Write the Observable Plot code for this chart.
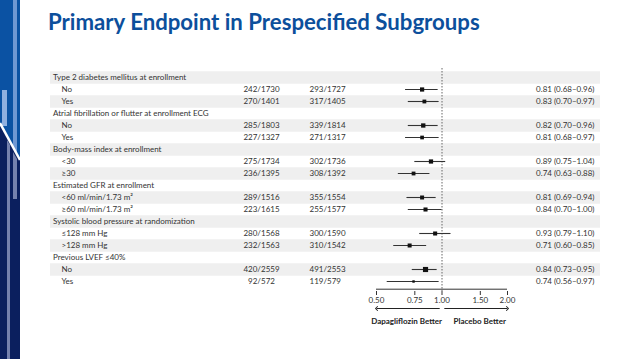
<!DOCTYPE html>
<html>
<head>
<meta charset="utf-8">
<script src="https://cdn.jsdelivr.net/npm/d3@7"></script>
<script src="https://cdn.jsdelivr.net/npm/@observablehq/plot@0.6"></script>
<style>
html, body { margin: 0; padding: 0; background: #fff; }
#wrap { position: relative; width: 638px; height: 359px; overflow: hidden; background: #fff; }
#deco { position: absolute; left: 0; top: 0; }
#chart { position: absolute; left: 0; top: 0; }
#title { position: absolute; left: 48px; top: 11px; font: bold 22.2px Lato, sans-serif; line-height: 22px; color: #0c4f9c; white-space: nowrap; }
</style>
</head>
<body>
<div id="wrap">
  <svg id="deco" width="22" height="359">
    <rect x="0" y="0" width="20" height="359" fill="#0b1f5e"></rect>
    <polygon points="0,0 20,0 20,160 0,124" fill="#0b52a3"></polygon>
    <polygon points="13,0 17,0 17,155 13,148" fill="#6f98d3"></polygon>
    <rect x="2" y="90" width="5" height="36" fill="#8fb0e0"></rect>
    <polygon points="7,140 10,145 10,359 7,359" fill="#7581ad"></polygon>
    <polygon points="13,152 17,159 17,199 13,199" fill="#7581ad"></polygon>
    <line x1="0" y1="123" x2="20" y2="160" stroke="#fff" stroke-width="2.5"></line>
  </svg>
  <div id="chart"></div>
  <div id="title">Primary Endpoint in Prespecified Subgroups</div>
</div>
<script>
const labels = [
  "Type 2 diabetes mellitus at enrollment", "No", "Yes",
  "Atrial fibrillation or flutter at enrollment ECG", "No", "Yes",
  "Body-mass index at enrollment", "<30", "≥30",
  "Estimated GFR at enrollment", "<60 ml/min/1.73 m²", "≥60 ml/min/1.73 m²",
  "Systolic blood pressure at randomization", "≤128 mm Hg", ">128 mm Hg",
  "Previous LVEF ≤40%", "No", "Yes"
];
const isGroup = [true, false, false, true, false, false, true, false, false, true, false, false, true, false, false, true, false, false];
const dapagliflozin = ["", "242/1730", "270/1401", "", "285/1803", "227/1327", "", "275/1734", "236/1395", "", "289/1516", "223/1615", "", "280/1568", "232/1563", "", "420/2559", "92/572"];
const placebo = ["", "293/1727", "317/1405", "", "339/1814", "271/1317", "", "302/1736", "308/1392", "", "355/1554", "255/1577", "", "300/1590", "310/1542", "", "491/2553", "119/579"];
const hazardRatio = [null, 0.81, 0.83, null, 0.82, 0.81, null, 0.89, 0.74, null, 0.81, 0.84, null, 0.93, 0.71, null, 0.84, 0.74];
const ciLow = [null, 0.68, 0.70, null, 0.70, 0.68, null, 0.75, 0.63, null, 0.69, 0.70, null, 0.79, 0.60, null, 0.73, 0.56];
const ciHigh = [null, 0.96, 0.97, null, 0.96, 0.97, null, 1.04, 0.88, null, 0.94, 1.00, null, 1.10, 0.85, null, 0.95, 0.97];
const xTicks = [0.5, 0.75, 1, 1.5, 2];
const directionLabels = ["Dapagliflozin Better", "Placebo Better"];

const fmt = d3.format(".2f");
const rows = labels.map((label, i) => ({
  id: i,
  label,
  group: isGroup[i],
  dapa: dapagliflozin[i],
  placebo: placebo[i],
  hr: hazardRatio[i],
  lo: ciLow[i],
  hi: ciHigh[i],
  n: isGroup[i] ? 0 : (+dapagliflozin[i].split("/")[1]) + (+placebo[i].split("/")[1]),
  hrText: isGroup[i] ? "" : `${fmt(hazardRatio[i])} (${fmt(ciLow[i])}–${fmt(ciHigh[i])})`
}));
const subs = rows.filter(d => !d.group);
const groups = rows.filter(d => d.group);
const shaded = rows.filter((d, i) => i % 2 === 0);
const lastId = rows[rows.length - 1].id;
const maxN = d3.max(subs, d => d.n);
const arrows = [{ from: 1, to: 0.5, row: lastId }, { from: 1, to: 2, row: lastId }];

const chart = Plot.plot({
  width: 638,
  height: 359,
  marginTop: 68,
  marginBottom: 68,
  marginLeft: 50,
  marginRight: 38,
  style: { fontFamily: "Lato, sans-serif", fontSize: "8px", color: "#333", background: "transparent", overflow: "visible" },
  x: { type: "log", domain: [0.5, 2], range: [376, 507], ticks: xTicks, tickFormat: fmt, tickSize: 4, tickPadding: 2, label: null },
  y: { type: "point", domain: rows.map(d => d.id), range: [74.3, 283.3], padding: 0, axis: null },
  r: { type: "sqrt", domain: [0, maxN], range: [0, 2.9] },
  marks: [
    Plot.ruleY(shaded, { y: "id", stroke: "#efefef", strokeWidth: 12.3 }),
    Plot.ruleX([1], { stroke: "#666", strokeWidth: 1, strokeDasharray: "1.5,1.5" }),
    Plot.ruleY([lastId], { y: d => d, x1: 0.5, x2: 2, dy: 7.7, stroke: "#333", strokeWidth: 1 }),
    Plot.ruleY(subs, { y: "id", x1: "lo", x2: "hi", stroke: "#333", strokeWidth: 1.1 }),
    Plot.dot(subs, { x: "hr", y: "id", r: "n", symbol: "square", fill: "#111", stroke: "none" }),
    Plot.text(groups, { y: "id", text: "label", frameAnchor: "left", textAnchor: "start", dx: 2.5, fill: "#333" }),
    Plot.text(subs, { y: "id", text: "label", frameAnchor: "left", textAnchor: "start", dx: 11, fill: "#333" }),
    Plot.text(subs, { y: "id", text: "dapa", frameAnchor: "left", textAnchor: "middle", dx: 211, fill: "#333" }),
    Plot.text(subs, { y: "id", text: "placebo", frameAnchor: "left", textAnchor: "start", dx: 259, fill: "#333" }),
    Plot.text(subs, { y: "id", text: "hrText", frameAnchor: "right", textAnchor: "end", dx: -6, fill: "#333" }),
    Plot.link(arrows, {
      x1: "from", x2: "to", y1: "row", y2: "row", dy: 27,
      markerEnd: "arrow", stroke: "#222", strokeWidth: 1
    }),
    Plot.dot([lastId], { x: () => 1, y: d => d, dy: 27, symbol: "square", r: 2.6, fill: "#fff", stroke: "none" }),
    Plot.text([directionLabels[0]], { x: () => 1, y: () => lastId, text: d => d, textAnchor: "end", dx: 0, dy: 40, fontWeight: "bold", fill: "#222" }),
    Plot.text([directionLabels[1]], { x: () => 1, y: () => lastId, text: d => d, textAnchor: "start", dx: 11.5, dy: 40, fontWeight: "bold", fill: "#222" })
  ]
});
document.getElementById("chart").appendChild(chart);
</script>
</body>
</html>
